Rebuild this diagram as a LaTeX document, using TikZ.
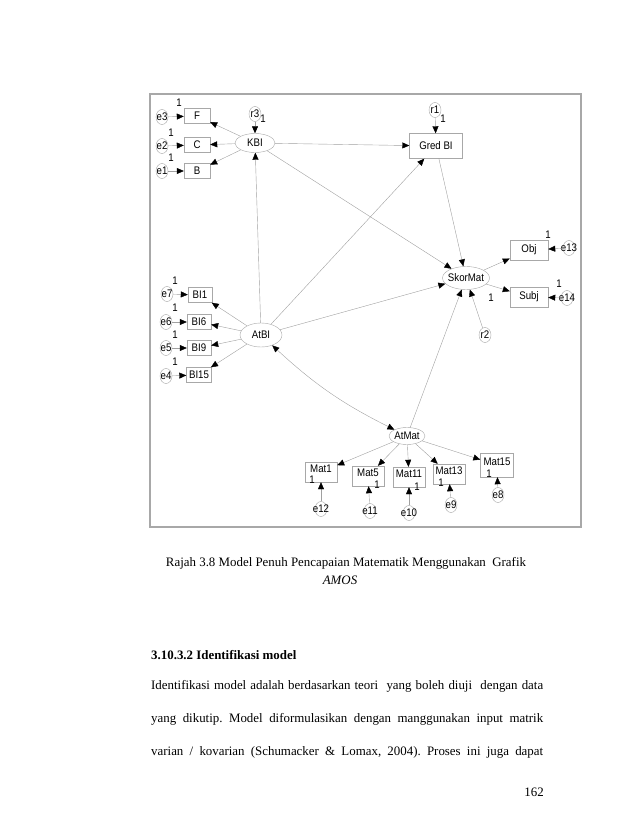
\documentclass[tikz,border=0pt]{standalone}
\usepackage{fontspec}
\setmainfont{Liberation Serif}
\newfontfamily\amosfont[FakeStretch=0.88]{Liberation Sans}
\usetikzlibrary{arrows.meta,shapes.geometric}
\definecolor{amosgray}{HTML}{A8A8A8}
\definecolor{amosline}{HTML}{A0A0A0}
\frenchspacing

\begin{document}
\begin{tikzpicture}[x=1pt,y=-1pt,
  tight/.style={execute at begin node={\hbox to 0pt\bgroup\hss},
    execute at end node={\hss\egroup}},
  obs/.style={rectangle,draw=amosgray,fill=white,inner sep=1pt,
    font=\amosfont\fontsize{11}{12}\selectfont,minimum width=26,minimum height=15},
  mat/.style={obs,minimum width=32,minimum height=20,text height=7.5pt,text depth=6pt},
  lat/.style={ellipse,draw=amosgray,fill=white,inner sep=0pt,tight,
    font=\amosfont\fontsize{11}{12}\selectfont},
  err/.style={ellipse,draw=amosgray,fill=white,inner sep=0pt,tight,
    font=\amosfont\fontsize{11}{12}\selectfont,minimum width=12,minimum height=15},
  one/.style={inner sep=0pt,font=\amosfont\fontsize{11}{12}\selectfont},
  arr/.style={draw=amosline,-{Triangle[length=7pt,width=6pt,black]}},
  cov/.style={draw=amosline,{Triangle[length=7pt,width=6pt,black]}-{Triangle[length=7pt,width=6pt,black]}},
  txt/.style={inner sep=0pt,font=\fontsize{12.9}{15}\selectfont}]
  \useasboundingbox (0,0) rectangle (638,826);
  \draw[amosgray,line width=1.5pt] (150,94) rectangle (581,527);
  \node[obs] (F) at (197,116) {F};
  \node[obs] (C) at (197,145) {C};
  \node[obs] (B) at (197,171) {B};
  \node[err] (e3) at (162,117) {e3};
  \node[err] (e2) at (162,146) {e2};
  \node[err] (e1) at (162,171) {e1};
  \node[lat,minimum width=40,minimum height=19] (KBI) at (255,143) {KBI};
  \node[err] (r3) at (255,114) {r3};
  \node[obs,minimum width=53,minimum height=25] (GredBI) at (436,146) {Gred BI};
  \node[err] (r1) at (435,110) {r1};
  \node[lat,minimum width=47,minimum height=23] (SkorMat) at (466,278) {SkorMat};
  \node[err] (r2) at (485,335) {r2};
  \node[obs,minimum width=38,minimum height=20] (Obj) at (529,250) {Obj};
  \node[obs,minimum width=38,minimum height=20] (Subj) at (529,297) {Subj};
  \node[err] (e13) at (569,248) {e13};
  \node[err] (e14) at (567,298) {e14};
  \node[lat,minimum width=42,minimum height=24] (AtBI) at (261,335) {AtBI};
  \node[obs,minimum width=24] (BIa) at (200,295) {BI1};
  \node[obs,minimum width=24] (BIb) at (199,322) {BI6};
  \node[obs,minimum width=24] (BIc) at (199,348) {BI9};
  \node[obs,minimum width=25] (BId) at (199,375) {BI15};
  \node[err] (e7) at (167,294) {e7};
  \node[err] (e6) at (166,322) {e6};
  \node[err] (e5) at (166,348) {e5};
  \node[err] (e4) at (166,376) {e4};
  \node[lat,minimum width=36,minimum height=17] (AtMat) at (407,436) {AtMat};
  \node[mat] (Mata) at (321,472) {Mat1};
  \node[mat] (Matb) at (368,476) {Mat5};
  \node[mat] (Matc) at (409,477) {Mat11};
  \node[mat] (Matd) at (449,474) {Mat13};
  \node[mat,minimum width=33,minimum height=24] (Mate) at (497,465) {Mat15};
  \node[err] (e12) at (321,509) {e12};
  \node[err] (e11) at (370,511) {e11};
  \node[err] (e10) at (409,513) {e10};
  \node[err] (e9) at (451,505) {e9};
  \node[err] (e8) at (498,495) {e8};
  \draw[arr] (e3) -- (F);
  \draw[arr] (e2) -- (C);
  \draw[arr] (e1) -- (B);
  \draw[arr] (KBI) -- (F);
  \draw[arr] (KBI) -- (C);
  \draw[arr] (KBI) -- (B);
  \draw[arr] (r3) -- (KBI);
  \draw[arr] (r1) -- (GredBI);
  \draw[arr] (KBI) -- (GredBI);
  \draw[arr] (KBI) -- (SkorMat);
  \draw[arr] (AtBI) -- (KBI);
  \draw[arr] (AtBI) -- (GredBI);
  \draw[arr] (AtBI) -- (SkorMat);
  \draw[arr] (GredBI) -- (SkorMat);
  \draw[arr] (AtMat) -- (SkorMat);
  \draw[arr] (r2) -- (SkorMat);
  \draw[arr] (SkorMat) -- (Obj);
  \draw[arr] (SkorMat) -- (Subj);
  \draw[arr] (e13) -- (Obj);
  \draw[arr] (e14) -- (Subj);
  \draw[arr] (AtBI) -- (BIa);
  \draw[arr] (AtBI) -- (BIb);
  \draw[arr] (AtBI) -- (BIc);
  \draw[arr] (AtBI) -- (BId);
  \draw[arr] (e7) -- (BIa);
  \draw[arr] (e6) -- (BIb);
  \draw[arr] (e5) -- (BIc);
  \draw[arr] (e4) -- (BId);
  \draw[cov] (AtBI) to[bend right=8] (AtMat);
  \draw[arr] (AtMat) -- (Mata);
  \draw[arr] (AtMat) -- (Matb);
  \draw[arr] (AtMat) -- (Matc);
  \draw[arr] (AtMat) -- (Matd);
  \draw[arr] (AtMat) -- (Mate);
  \draw[arr] (e12) -- (Mata);
  \draw[arr] (e11) -- (Matb);
  \draw[arr] (e10) -- (Matc);
  \draw[arr] (e9) -- (Matd);
  \draw[arr] (e8) -- (Mate);
  \node[one] (wF) at (179,103) {1};
  \node[one] (wC) at (171,133) {1};
  \node[one] (wB) at (171,158) {1};
  \node[one] (wr3) at (263,119) {1};
  \node[one] (wr1) at (443,119) {1};
  \node[one] (wBIa) at (175,281) {1};
  \node[one] (wBIb) at (175,308) {1};
  \node[one] (wBIc) at (175,335) {1};
  \node[one] (wBId) at (175,362) {1};
  \node[one] (wObj) at (548,235) {1};
  \node[one] (wSubj) at (559,284) {1};
  \node[one] (wr2) at (491,298) {1};
  \node[one] (wMata) at (312,480) {1};
  \node[one] (wMatb) at (377,485) {1};
  \node[one] (wMatc) at (417,487) {1};
  \node[one] (wMatd) at (441,483) {1};
  \node[one] (wMate) at (489,474) {1};
  \node[txt] (capa) at (346,563) {Rajah 3.8 Model Penuh Pencapaian Matematik Menggunakan\ \ Grafik};
  \node[txt] (capb) at (340,580) {\itshape AMOS};
  \node[txt,anchor=west] (head) at (151,655) {\bfseries 3.10.3.2 Identifikasi model};
  \node[txt,anchor=west] (bodya) at (151,686) {\makebox[392pt][s]{Identifikasi model adalah berdasarkan teori\ \ yang boleh diuji\ \ dengan data}};
  \node[txt,anchor=west] (bodyb) at (151,719) {\makebox[392pt][s]{yang dikutip. Model diformulasikan dengan manggunakan input matrik}};
  \node[txt,anchor=west] (bodyc) at (151,752) {\makebox[392pt][s]{varian / kovarian (Schumacker \& Lomax, 2004). Proses ini juga dapat}};
  \node[txt,anchor=east] (pgno) at (544,792) {162};
\end{tikzpicture}
\end{document}
